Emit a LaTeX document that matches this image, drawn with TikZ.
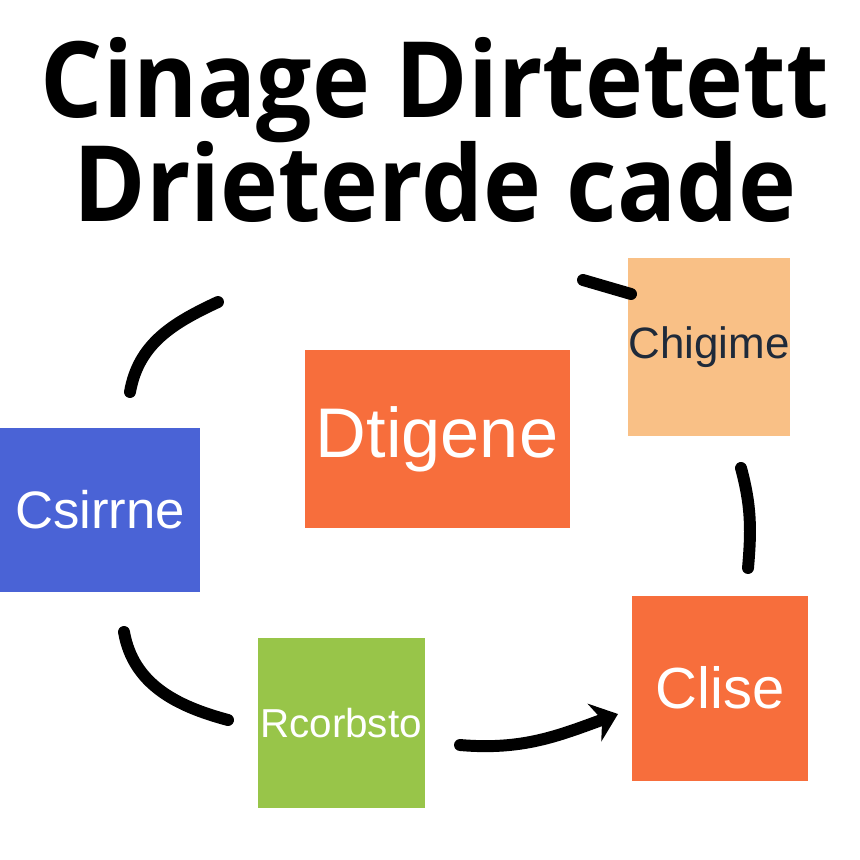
\documentclass[tikz,border=0pt]{standalone}
\usepackage{fontspec}
\setmainfont{Liberation Sans}
\newfontfamily\titlefont[FakeStretch=0.93]{Open Sans}
\usepackage{tikz}
\usetikzlibrary{arrows.meta}
\definecolor{cardblue}{HTML}{4A63D6}
\definecolor{cardorange}{HTML}{F76E3C}
\definecolor{cardpeach}{HTML}{F9C086}
\definecolor{cardgreen}{HTML}{98C549}
\definecolor{inkdark}{HTML}{1F2A3A}
\tikzset{
  card/.style={inner sep=0pt, text=white},
  loopline/.style={line width=3.4pt, line cap=round},
}

\begin{document}
\begin{tikzpicture}[x=0.1mm, y=-0.1mm]
        \useasboundingbox[fill=white] (0,0) rectangle (860,860);
        % heading
        \node[font=\titlefont\fontsize{30}{30}\selectfont\bfseries] (title1) at (435,90) {Cinage Dirtetett};
        \node[font=\titlefont\fontsize{30}{30}\selectfont\bfseries] (title2) at (435,182) {Drieterde cade};
        % cards
        \node[card, fill=cardblue, minimum width=2cm, minimum height=1.64cm,
              font=\fontsize{15}{15}\selectfont] (csir) at (100,510) {Csirrne};
        \node[card, fill=cardorange, minimum width=2.65cm, minimum height=1.78cm,
              font=\fontsize{20}{20}\selectfont] (dtig) at (437,439) {Dtigene};
        \node[card, fill=cardpeach, text=inkdark, minimum width=1.55cm, minimum height=1.78cm,
              font=\fontsize{12.5}{12.5}\selectfont] (chig) at (709,347) {Chigime};
        \node[card, fill=cardorange, minimum width=1.76cm, minimum height=1.85cm,
              font=\fontsize{16.5}{16.5}\selectfont] (clis) at (720,688) {Clise};
        \node[card, fill=cardgreen, minimum width=1.67cm, minimum height=1.7cm,
              font=\fontsize{11.5}{11.5}\selectfont] (rcor) at (341,723) {Rcorbsto};
        % loop ends
        \coordinate (tlA) at (218,302);
        \coordinate (tlB) at (130,392);
        \coordinate (trA) at (583,280);
        \coordinate (trB) at (631,294);
        \coordinate (rA) at (741,468);
        \coordinate (rB) at (748,568);
        \coordinate (blA) at (124,632);
        \coordinate (blB) at (228,720);
        \coordinate (bA) at (460,745);
        \coordinate (bB) at (618,714);
        % loop
        \draw[loopline] (tlA) to[out=205,in=80] (tlB);
        \draw[loopline] (trA) -- (trB);
        \draw[loopline] (rA) to[out=-75,in=85] (rB);
        \draw[loopline] (blA) to[out=-80,in=165] (blB);
        \draw[loopline, -{Stealth[length=2.5mm,width=4mm]}] (bA) to[out=-5,in=200] (bB);
\end{tikzpicture}
\end{document}
